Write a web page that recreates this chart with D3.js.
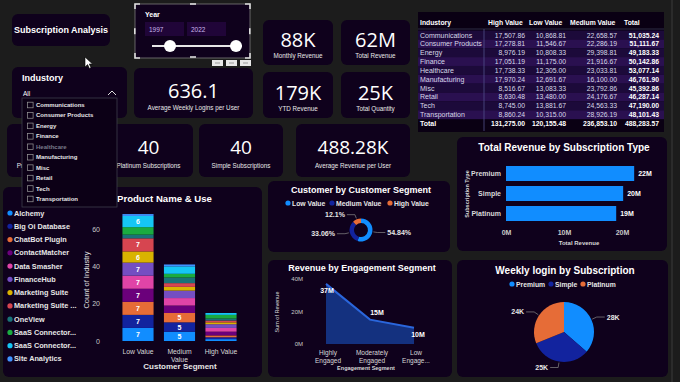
<!DOCTYPE html>
<html>
<head>
<meta charset="utf-8">
<title>Subscription Analysis</title>
<script src="https://cdn.jsdelivr.net/npm/d3@7/dist/d3.min.js"></script>
<style>
  html, body { margin: 0; background: #1c1c1c; }
  svg { display: block; font-family: "Liberation Sans", Arial, sans-serif; }
</style>
</head>
<body>
<svg id="dash" width="680" height="382"></svg>
<script>
// ---- data ----
var years = [1997, 2022];

var kpiValues = ["88K", "62M", "179K", "25K", "636.1", "40", "40", "40", "488.28K"];
var kpiLabels = ["Monthly Revenue", "Total Revenue", "YTD Revenue", "Total Quantity",
  "Average Weekly Logins per User", "Premium Subscriptions", "Platinum Subscriptions",
  "Simple Subscriptions", "Average Revenue per User"];

var industries = ["Communications", "Consumer Products", "Energy", "Finance", "Healthcare",
  "Manufacturing", "Misc", "Retail", "Tech", "Transportation"];
var highValue = [17507.86, 17278.81, 8976.19, 17051.19, 17738.33, 17970.24, 8516.67, 8630.48, 8745.00, 8860.24];
var lowValue = [10868.81, 11546.67, 10808.33, 11175.00, 12305.00, 12691.67, 13083.33, 13480.00, 13881.67, 10315.00];
var mediumValue = [22658.57, 22286.19, 29398.81, 21916.67, 23033.81, 16100.00, 23792.86, 24176.67, 24563.33, 28926.19];
var industryTotal = [51035.24, 51111.67, 49183.33, 50142.86, 53077.14, 46761.90, 45392.86, 46287.14, 47190.00, 48101.43];
var columnTotals = [131275.00, 120155.48, 236853.10, 488283.57];
var tableHeaders = ["Industory", "High Value", "Low Value", "Medium Value", "Total"];

var products = ["Alchemy", "Big Oi Database", "ChatBot Plugin", "ContactMatcher", "Data Smasher",
  "FinanceHub", "Marketing Suite", "Marketing Suite ...", "OneView", "SaaS Connector...",
  "SaaS Connector...", "Site Analytics"];
var segments = ["Low Value", "Medium Value", "High Value"];
var lowCounts = [7, 7, 7, 7, 7, 7, 6, 7, 2, 4, 6, 1];
var mediumCounts = [5, 5, 5, 4, 4, 4, 2, 2, 3, 2, 4, 1];
var highCounts = [1, 1, 1, 2, 2, 2, 1, 1, 1, 2, 1, 0];
var countTicks = [0, 20, 40, 60];

var segmentShare = [54.84, 33.06, 12.1];

var engagement = ["Highly Engaged", "Moderately Engaged", "Low Engage..."];
var engagementRevenue = [37, 15, 10]; // millions
var revenueTicks = [0, 20, 40];

var subTypes = ["Premium", "Simple", "Platinum"];
var subRevenue = [22.1, 20.2, 19.0]; // millions
var subRevenueTicks = [0, 10, 20];
var weeklyLogins = [28, 25, 24]; // thousands

// ---- styles ----
var CARD = "#0f011c";
var palette = ["#118DFF", "#12239E", "#E66C37", "#6B007B", "#E044A7", "#744EC2",
  "#D9B300", "#D64550", "#197278", "#1AAB40", "#15C6F4", "#4092FF"];

var svg = d3.select("#dash");

function card(x, y, w, h) {
  return svg.append("rect").attr("x", x).attr("y", y).attr("width", w).attr("height", h)
    .attr("rx", 6).attr("fill", CARD);
}

function label(g, x, y, s, size, opt) {
  opt = opt || {};
  return g.append("text").attr("x", x).attr("y", y)
    .attr("font-size", size)
    .attr("fill", opt.fill || "#fff")
    .attr("font-weight", opt.bold ? "bold" : null)
    .attr("font-family", opt.family || null)
    .attr("text-anchor", opt.anchor || "start")
    .attr("dominant-baseline", "central")
    .text(s);
}

// wrap long category names on two lines
function wrapped(g, x, y, s, size, opt) {
  var i = s.indexOf(" ");
  if (s.length > 10 && i > 0) {
    label(g, x, y, s.slice(0, i), size, opt);
    label(g, x, y + 8, s.slice(i + 1), size, opt);
  } else {
    label(g, x, y, s, size, opt);
  }
}

function styleAxis(ax, size) {
  ax.select(".domain").remove();
  ax.attr("font-family", null);
  ax.selectAll("text").attr("font-size", size).attr("fill", "#c8c8c8");
}

// leader-line label for pie/donut
function sliceLabel(g, cx, cy, r, a, s, gap, horiz) {
  var sx = Math.sin(a), sy = -Math.cos(a);
  var p1 = [cx + sx * (r + 1), cy + sy * (r + 1)];
  var p2 = [cx + sx * (r + gap), cy + sy * (r + gap)];
  var dir = sx >= 0 ? 1 : -1;
  var p3 = [p2[0] + dir * horiz, p2[1]];
  g.append("path").attr("d", d3.line()([p1, p2, p3]))
    .attr("fill", "none").attr("stroke", "#8a8a8a").attr("stroke-width", 0.7);
  label(g, p3[0] + dir * 2, p3[1], s, 7, { bold: true, anchor: dir > 0 ? "start" : "end", fill: "#e6e6e6" });
}

function legendRow(g, items, xs, y, colors) {
  items.forEach(function(s, i) {
    g.append("circle").attr("cx", xs[i]).attr("cy", y).attr("r", 2.6).attr("fill", colors[i]);
    label(g, xs[i] + 4, y, s, 6.8, { bold: true, fill: "#e6e6e6" });
  });
}

// ---- title card ----
card(12, 14, 98, 32);
label(svg, 61, 30, "Subscription Analysis", 9, { bold: true, anchor: "middle" });

// ---- year slicer ----
(function() {
  var g = svg.append("g");
  g.append("rect").attr("x", 135).attr("y", 4).attr("width", 115).attr("height", 54)
    .attr("fill", CARD).attr("stroke", "#7a7a7a").attr("stroke-width", 0.8);
  // selection handles
  [[135, 4, 1, 1], [250, 4, -1, 1], [135, 58, 1, -1], [250, 58, -1, -1]].forEach(function(c) {
    g.append("path").attr("d", "M" + (c[0] + 5 * c[2]) + "," + c[1] + "H" + c[0] + "V" + (c[1] + 5 * c[3]))
      .attr("fill", "none").attr("stroke", "#ddd").attr("stroke-width", 1.6);
  });
  [[190, 4, 6, 1.6], [190, 57, 6, 1.6], [134, 29, 1.6, 6], [249, 29, 1.6, 6]].forEach(function(h) {
    g.append("rect").attr("x", h[0]).attr("y", h[1] - 0.8).attr("width", h[2]).attr("height", h[3]).attr("fill", "#ddd");
  });
  label(g, 145, 14, "Year", 7, { bold: true });
  years.forEach(function(yr, i) {
    g.append("rect").attr("x", 145 + i * 42).attr("y", 22).attr("width", 39).attr("height", 14).attr("fill", "#200538");
    label(g, 149 + i * 42, 29, String(yr), 6.5, { fill: "#c9b6ec" });
  });
  var sx = d3.scaleLinear().domain(years).range([170, 236]);
  g.append("line").attr("x1", 152).attr("x2", 242).attr("y1", 46).attr("y2", 46)
    .attr("stroke", "#e6e6e6").attr("stroke-width", 2);
  g.selectAll("circle.knob").data(years).join("circle").attr("class", "knob")
    .attr("cx", function(d) { return sx(d); }).attr("cy", 46).attr("r", 6).attr("fill", "#fff");
  // visual header buttons
  [212, 226, 240].forEach(function(x) {
    g.append("rect").attr("x", x).attr("y", 60).attr("width", 11).attr("height", 6).attr("fill", "#e8e8e8");
    g.append("rect").attr("x", x + 3).attr("y", 62.5).attr("width", 5).attr("height", 1).attr("fill", "#999");
  });
})();

// ---- KPI cards ----
var kpiBoxes = [[263, 20, 70, 45], [341, 20, 69, 45], [263, 72, 70, 46], [341, 72, 69, 46],
  [134, 68, 119, 50], [7, 124, 84, 53], [104, 124, 89, 53], [199, 124, 84, 53], [296, 124, 114, 53]];
kpiBoxes.forEach(function(b, i) {
  card(b[0], b[1], b[2], b[3]);
  var cx = b[0] + b[2] / 2;
  label(svg, cx, b[1] + b[3] * 0.44, kpiValues[i], i < 5 ? 20 : 19,
    { anchor: "middle", family: "'Open Sans', sans-serif" });
  label(svg, cx, b[1] + b[3] * 0.79, kpiLabels[i], 6.3, { anchor: "middle", fill: "#e8e8e8" });
});

// ---- industry table ----
(function() {
  var g = svg.append("g");
  var fmt = d3.format(",.2f");
  g.append("rect").attr("x", 418).attr("y", 12).attr("width", 246).attr("height", 120).attr("fill", "#0a0013");
  var rowY = d3.scaleLinear().domain([0, 9]).range([35, 114.7]);
  industries.forEach(function(ind, i) {
    g.append("rect").attr("x", 418).attr("y", rowY(i) - 4.45).attr("width", 246).attr("height", 8.9)
      .attr("fill", i % 2 ? "#2a1050" : "#1c0a3a");
  });
  g.append("line").attr("x1", 418).attr("x2", 664).attr("y1", 29).attr("y2", 29).attr("stroke", "#2c2c44");
  g.append("line").attr("x1", 484).attr("x2", 484).attr("y1", 29).attr("y2", 131).attr("stroke", "#50508a").attr("stroke-width", 0.8);
  var headX = [420, 488, 529, 570, 624];
  tableHeaders.forEach(function(h, j) { label(g, headX[j], 22, h, 6.8, { bold: true }); });
  var colRight = [525, 566, 617, 659];
  industries.forEach(function(ind, i) {
    var y = rowY(i);
    label(g, 420, y, ind, 7, { fill: "#d8d8e8" });
    [highValue[i], lowValue[i], mediumValue[i]].forEach(function(v, j) {
      label(g, colRight[j], y, fmt(v), 6.8, { anchor: "end", fill: "#d8d8e8" });
    });
    label(g, colRight[3], y, fmt(industryTotal[i]), 6.8, { anchor: "end", bold: true });
  });
  var ty = rowY(10) - 0.5;
  label(g, 420, ty, "Total", 7, { bold: true });
  columnTotals.forEach(function(v, j) { label(g, colRight[j], ty, fmt(v), 6.8, { anchor: "end", bold: true }); });
})();

svg.append("line").attr("x1", 672).attr("x2", 672).attr("y1", 0).attr("y2", 382).attr("stroke", "#3a3a3a");

// ---- stacked bar: count of industry by product ----
(function() {
  card(3, 187, 259, 190);
  var g = svg.append("g");
  label(g, 117, 198, "Product Name & Use", 9.6, { bold: true });
  products.forEach(function(p, i) {
    var y = 213 + i * 13.27;
    g.append("circle").attr("cx", 10).attr("cy", y).attr("r", 2.6).attr("fill", palette[i]);
    label(g, 14, y, p, 7.3, { bold: true, fill: "#e6e6e6" });
  });
  var rows = [lowCounts, mediumCounts, highCounts];
  var keys = d3.range(products.length);
  var series = d3.stack().keys(keys)(rows);
  var x = d3.scaleBand().domain([0, 1, 2]).range([117.25, 241.75]).paddingInner(0.25).paddingOuter(0.125);
  var y = d3.scaleLinear().domain([0, 60]).range([341, 229]);
  var ax = g.append("g").attr("transform", "translate(100,0)")
    .call(d3.axisLeft(y).tickValues(countTicks).tickSize(0).tickPadding(0));
  styleAxis(ax, 7);
  g.append("text").attr("transform", "translate(86,280) rotate(-90)").attr("text-anchor", "middle")
    .attr("dominant-baseline", "central").attr("font-size", 7.5).attr("fill", "#e0e0e0")
    .text("Count of Industry");
  series.forEach(function(s, k) {
    g.selectAll(null).data(s).join("rect")
      .attr("x", function(d, i) { return x(i); })
      .attr("width", x.bandwidth())
      .attr("y", function(d) { return y(d[1]); })
      .attr("height", function(d) { return y(d[0]) - y(d[1]); })
      .attr("fill", palette[k]);
    s.forEach(function(d, i) {
      var v = d[1] - d[0];
      if (v >= 5) label(g, x(i) + x.bandwidth() / 2, y((d[0] + d[1]) / 2), String(v), 7, { bold: true, anchor: "middle" });
    });
  });
  segments.forEach(function(s, i) {
    wrapped(g, x(i) + x.bandwidth() / 2, 351, s, 6.8, { anchor: "middle", fill: "#d8d8d8" });
  });
  label(g, 180, 366, "Customer Segment", 8, { bold: true, anchor: "middle", fill: "#e6e6e6" });
})();

// ---- donut: customer by segment ----
(function() {
  card(268, 181, 182, 71);
  var g = svg.append("g");
  label(g, 361, 190, "Customer by Customer Segment", 9, { bold: true, anchor: "middle" });
  legendRow(g, segments, [288, 332, 390], 203, palette.slice(0, 3));
  var cx = 361, cy = 230, r = 11.5;
  var arcs = d3.pie().sort(null)(segmentShare);
  var arc = d3.arc().innerRadius(7).outerRadius(r);
  g.append("g").attr("transform", "translate(" + cx + "," + cy + ")")
    .selectAll("path").data(arcs).join("path").attr("d", arc)
    .attr("fill", function(d, i) { return palette[i]; });
  arcs.forEach(function(d, i) {
    sliceLabel(g, cx, cy, r, (d.startAngle + d.endAngle) / 2, segmentShare[i] + "%", 5, 8);
  });
})();

// ---- area: revenue by engagement ----
(function() {
  card(268, 260, 184, 117);
  var g = svg.append("g");
  label(g, 362, 268, "Revenue by Engagement Segment", 9, { bold: true, anchor: "middle" });
  var x = d3.scalePoint().domain(engagement).range([326, 414]);
  var y = d3.scaleLinear().domain([0, 40]).range([344, 279]);
  var ax = g.append("g").attr("transform", "translate(303,0)")
    .call(d3.axisLeft(y).tickValues(revenueTicks).tickSize(0).tickPadding(0).tickFormat(function(d) { return d + "M"; }));
  styleAxis(ax, 6);
  g.append("text").attr("transform", "translate(277,312) rotate(-90)").attr("text-anchor", "middle")
    .attr("dominant-baseline", "central").attr("font-size", 5.5).attr("fill", "#d8d8d8").text("Sum of Revenue");
  g.append("path").datum(engagementRevenue)
    .attr("d", d3.area().x(function(d, i) { return x(engagement[i]); }).y0(y(0)).y1(function(d) { return y(d); }))
    .attr("fill", "#14317f");
  g.append("path").datum(engagementRevenue)
    .attr("d", d3.line().x(function(d, i) { return x(engagement[i]); }).y(function(d) { return y(d); }))
    .attr("fill", "none").attr("stroke", "#2a66dc").attr("stroke-width", 2);
  var off = [[1, 7], [7, -7], [4, 7]];
  engagementRevenue.forEach(function(v, i) {
    label(g, x(engagement[i]) + off[i][0], y(v) + off[i][1], v + "M", 7, { bold: true, anchor: "middle" });
  });
  engagement.forEach(function(s, i) {
    wrapped(g, x(s) + 2, 352, s, 6.5, { anchor: "middle", fill: "#d8d8d8" });
  });
  label(g, 366, 368, "Engagement Segment", 5.5, { bold: true, anchor: "middle", fill: "#d8d8d8" });
})();

// ---- bar: total revenue by subscription ----
(function() {
  card(457, 137, 210, 114);
  var g = svg.append("g");
  label(g, 564, 147, "Total Revenue by Subscription Type", 10, { bold: true, anchor: "middle" });
  var x = d3.scaleLinear().domain([0, 20]).range([506, 622]);
  var y = d3.scaleBand().domain(subTypes).range([163.5, 223.5]).paddingInner(0.25).paddingOuter(0.125);
  g.selectAll(null).data(subRevenue).join("rect")
    .attr("x", x(0)).attr("y", function(d, i) { return y(subTypes[i]); })
    .attr("width", function(d) { return x(d) - x(0); }).attr("height", y.bandwidth())
    .attr("fill", palette[0]);
  subRevenue.forEach(function(v, i) {
    var cy = y(subTypes[i]) + y.bandwidth() / 2;
    label(g, x(v) + 4, cy, Math.round(v) + "M", 7, { bold: true });
    label(g, 501, cy, subTypes[i], 7, { bold: true, anchor: "end", fill: "#d8d8d8" });
  });
  var ax = g.append("g").attr("transform", "translate(0,230)")
    .call(d3.axisBottom(x).tickValues(subRevenueTicks).tickSize(0).tickPadding(0).tickFormat(function(d) { return d + "M"; }));
  styleAxis(ax, 7);
  ax.selectAll("text").attr("font-weight", "bold");
  label(g, 579, 243, "Total Revenue", 6, { bold: true, anchor: "middle", fill: "#d8d8d8" });
  g.append("text").attr("transform", "translate(467,194) rotate(-90)").attr("text-anchor", "middle")
    .attr("dominant-baseline", "central").attr("font-size", 5.5).attr("font-weight", "bold")
    .attr("fill", "#d8d8d8").text("Subscription Type");
})();

// ---- pie: weekly login by subscription ----
(function() {
  card(457, 260, 211, 117);
  var g = svg.append("g");
  label(g, 565, 270, "Weekly login by Subscription", 10, { bold: true, anchor: "middle" });
  legendRow(g, subTypes, [512, 551, 583], 284, [palette[0], palette[1], palette[2]]);
  var cx = 564, cy = 332, r = 30;
  var arcs = d3.pie().sort(null)(weeklyLogins);
  g.append("g").attr("transform", "translate(" + cx + "," + cy + ")")
    .selectAll("path").data(arcs).join("path").attr("d", d3.arc().innerRadius(0).outerRadius(r))
    .attr("fill", function(d, i) { return palette[i]; });
  arcs.forEach(function(d, i) {
    sliceLabel(g, cx, cy, r, (d.startAngle + d.endAngle) / 2, weeklyLogins[i] + "K", 6, 8);
  });
})();

// ---- industry slicer (dropdown open, drawn on top) ----
(function() {
  card(12, 67, 115, 51);
  var g = svg.append("g");
  label(g, 22, 78, "Industory", 9, { bold: true });
  label(g, 23, 93, "All", 6.5);
  g.append("path").attr("d", "M108,95 L112,91 L116,95").attr("fill", "none").attr("stroke", "#ddd").attr("stroke-width", 1);
  g.append("rect").attr("x", 22).attr("y", 98).attr("width", 95).attr("height", 109)
    .attr("fill", "#0c0016").attr("stroke", "#3c3c4c").attr("stroke-width", 0.8);
  industries.forEach(function(ind, i) {
    var y = 105 + i * 10.44;
    g.append("rect").attr("x", 27.5).attr("y", y - 2.8).attr("width", 5.6).attr("height", 5.6)
      .attr("fill", "none").attr("stroke", "#9a9a9a").attr("stroke-width", 0.7);
    label(g, 36, y, ind, 6, { bold: true, fill: ind === "Healthcare" ? "#7a7a8a" : "#e6e6e6" });
  });
  // mouse pointer
  g.append("path").attr("transform", "translate(85,57)")
    .attr("d", "M0,0 L0,10 L2.6,7.6 L4.4,11.5 L6,10.8 L4.3,7 L7.5,7 Z")
    .attr("fill", "#fff").attr("stroke", "#000").attr("stroke-width", 0.6);
})();
</script>
</body>
</html>
